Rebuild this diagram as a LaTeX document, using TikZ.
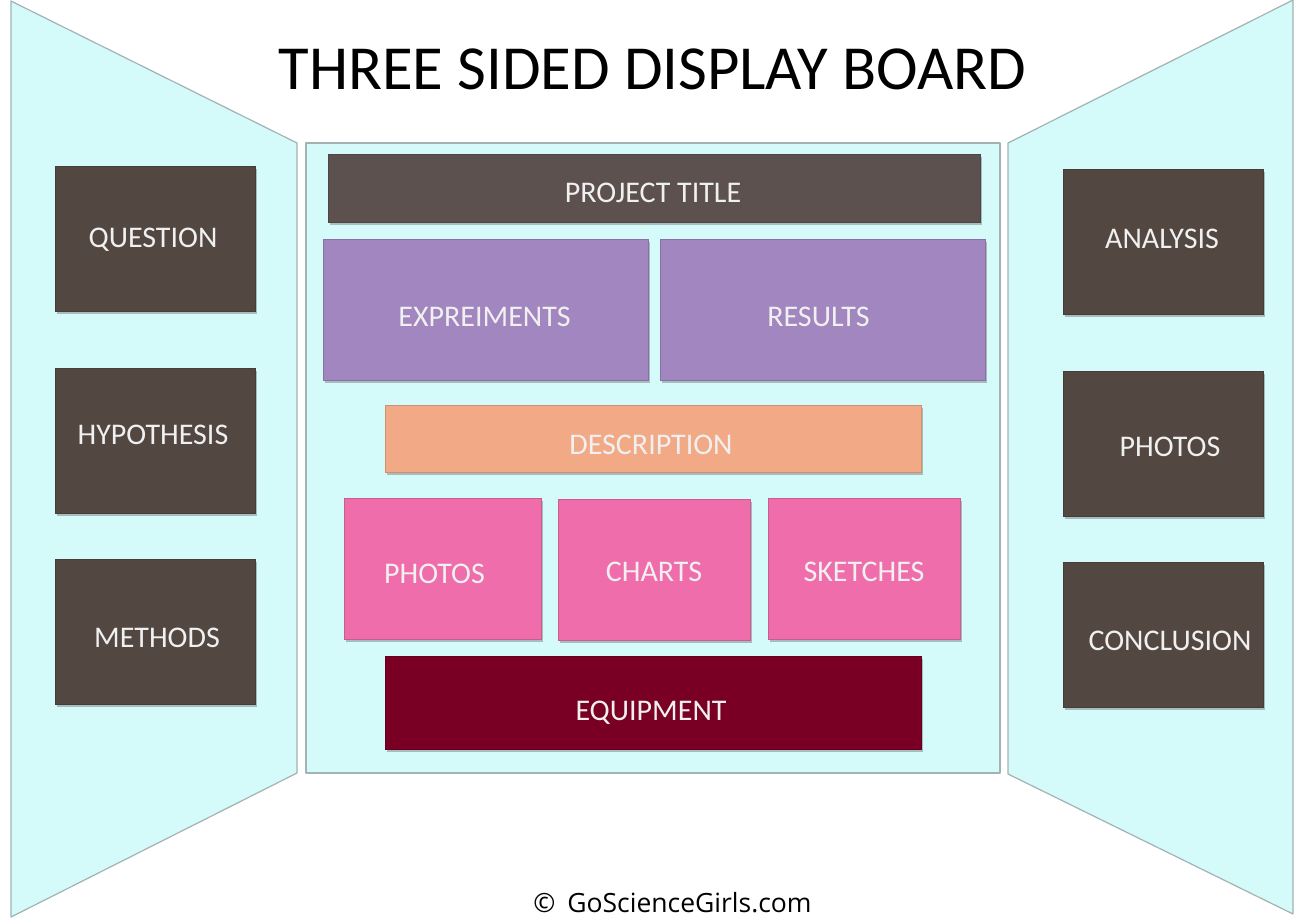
\documentclass[tikz,border=0pt]{standalone}
\usepackage{fontspec}
\setmainfont{Carlito}
\newfontfamily\footfont{Open Sans}
\usetikzlibrary{shadows}
\definecolor{panelfill}{HTML}{D5FAFA}
\definecolor{paneldraw}{HTML}{A3B3B3}
\definecolor{darkbox}{HTML}{534741}
\definecolor{titlebox}{HTML}{5D5150}
\definecolor{purplebox}{HTML}{A186C0}
\definecolor{orangebox}{HTML}{F2A985}
\definecolor{pinkbox}{HTML}{EE6DAA}
\definecolor{equipbox}{HTML}{790024}
\tikzset{
  panel/.style={fill=panelfill, draw=paneldraw, line width=1.2pt, line join=round},
  board/.style={rectangle, inner sep=0pt, draw=#1!85!black, line width=0.4pt, fill=#1,
    drop shadow={shadow xshift=2pt, shadow yshift=-3pt, opacity=0.35, fill=black!70}},
  lbl/.style={text=white!94!black, font=\fontsize{30}{33}\selectfont, inner sep=0pt}
}
\begin{document}
\begin{tikzpicture}[x=1pt,y=-1pt]
\useasboundingbox (0,0) rectangle (1307,924);
\fill[white] (0,0) rectangle (1307,924);
% panels
\draw[panel] (11,1) -- (297,143) -- (297,773) -- (11,917) -- cycle;
\draw[panel] (306,143) rectangle (1000,773);
\draw[panel] (1293,0) -- (1008,143) -- (1008,774) -- (1293,914) -- cycle;
% title
\node[font=\fontsize{62.7}{70}\selectfont, inner sep=0pt] (title) at (652.5,69) {THREE SIDED DISPLAY BOARD};
% left wing
\node[board=darkbox, minimum width=200pt, minimum height=145pt, label={[lbl,xshift=-2pt,yshift=-1pt]center:QUESTION}] (question) at (155,238.5) {};
\node[board=darkbox, minimum width=200pt, minimum height=145pt, label={[lbl,xshift=-2pt,yshift=5.5pt]center:HYPOTHESIS}] (hypothesis) at (155,440.5) {};
\node[board=darkbox, minimum width=200pt, minimum height=145pt, label={[lbl,xshift=2pt,yshift=-6pt]center:METHODS}] (methods) at (155,631.5) {};
% right wing
\node[board=darkbox, minimum width=200pt, minimum height=145pt, label={[lbl,xshift=-1pt,yshift=3pt]center:ANALYSIS}] (analysis) at (1163,241.5) {};
\node[board=darkbox, minimum width=200pt, minimum height=145pt, label={[lbl,xshift=7pt,yshift=-3pt]center:PHOTOS}] (photosr) at (1163,443.5) {};
\node[board=darkbox, minimum width=200pt, minimum height=145pt, label={[lbl,xshift=7pt,yshift=-6pt]center:CONCLUSION}] (conclusion) at (1163,634.5) {};
% centre
\node[board=titlebox, minimum width=652pt, minimum height=68pt, label={[lbl,xshift=-1pt,yshift=-5pt]center:PROJECT TITLE}] (ptitle) at (654,188) {};
\node[board=purplebox, minimum width=325pt, minimum height=141pt, label={[lbl,xshift=-1pt,yshift=-7pt]center:EXPREIMENTS}] (expr) at (485.5,309.5) {};
\node[board=purplebox, minimum width=325pt, minimum height=141pt, label={[lbl,xshift=-4pt,yshift=-7pt]center:RESULTS}] (results) at (822.5,309.5) {};
\node[board=orangebox, minimum width=536pt, minimum height=67pt, label={[lbl,xshift=-2pt,yshift=-6pt]center:DESCRIPTION}] (descr) at (653,438.5) {};
\node[board=pinkbox, minimum width=197pt, minimum height=141pt, label={[lbl,xshift=-8pt,yshift=-5pt]center:PHOTOS}] (photosc) at (442.5,568.5) {};
\node[board=pinkbox, minimum width=192pt, minimum height=141pt, label={[lbl,xshift=0pt,yshift=-2pt]center:CHARTS}] (charts) at (654,569.5) {};
\node[board=pinkbox, minimum width=192pt, minimum height=141pt, label={[lbl,xshift=0pt,yshift=-3pt]center:SKETCHES}] (sketches) at (864,568.5) {};
\node[board=equipbox, minimum width=536pt, minimum height=93pt, label={[lbl,xshift=-2pt,yshift=-10pt]center:EQUIPMENT}] (equip) at (653,702.5) {};
% footer
\node[font=\footfont\fontsize{26.5}{30}\selectfont, inner sep=0pt] (footer) at (672.5,903) {©\hspace{0.45em}GoScienceGirls.com};
\end{tikzpicture}
\end{document}
